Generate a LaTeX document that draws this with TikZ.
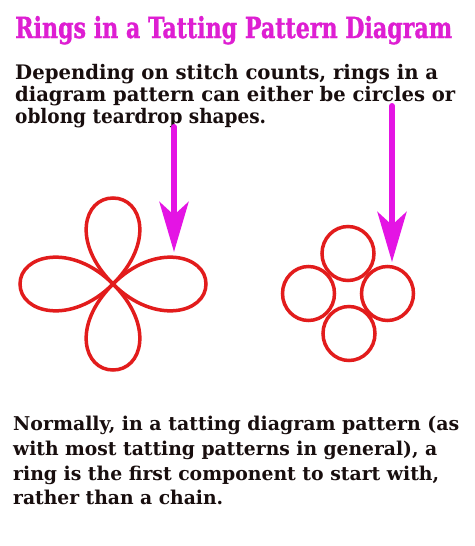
\documentclass[tikz,border=0pt]{standalone}
\usepackage{fontspec}
\setmainfont{DejaVu Serif}
\newfontfamily\heavyfont{DejaVu Serif}[BoldFeatures={FakeBold=1.2}]
\usetikzlibrary{arrows.meta}
\definecolor{titlemag}{RGB}{222,30,210}
\definecolor{arrowmag}{RGB}{228,20,228}
\definecolor{ringred}{RGB}{226,28,28}
\definecolor{inkblack}{RGB}{24,14,14}
\newcommand{\fitline}[2]{\resizebox{#1}{\height}{#2}}
\tikzset{
  txt/.style={anchor=base west, inner sep=0pt, text=inkblack},
  ptxt/.style={txt, font=\fontsize{20}{22}\selectfont\bfseries},
  qtxt/.style={txt, font=\fontsize{19}{22}\selectfont\bfseries},
  ring/.style={draw=ringred, line width=3.5pt},
  pointer/.style={draw=arrowmag, line width=6pt, line cap=round,
    -{Stealth[length=50pt, width=29pt, inset=13pt]}},
}
\begin{document}
\begin{tikzpicture}[x=1pt, y=-1pt]
\fill[white] (0,0) rectangle (474,546);
\useasboundingbox (0,0) rectangle (474,546);

% title
\node[txt, text=titlemag, font=\fontsize{29}{32}\selectfont\heavyfont\bfseries] (title) at (15,38)
  {\fitline{437pt}{Rings in a Tatting Pattern Diagram}};

% first paragraph
\node[ptxt] (p1a) at (15,79)  {\fitline{423pt}{Depending on stitch counts, rings in a}};
\node[ptxt] (p1b) at (15,101) {\fitline{440pt}{diagram pattern can either be circles or}};
\node[ptxt] (p1c) at (15,123) {\fitline{251pt}{oblong teardrop shapes.}};

% second paragraph
\node[qtxt] (p2a) at (13,430) {\fitline{446pt}{Normally, in a tatting diagram pattern (as}};
\node[qtxt] (p2b) at (13,455) {\fitline{424pt}{with most tatting patterns in general), a}};
\node[qtxt] (p2c) at (13,480) {\fitline{426pt}{ring is the first component to start with,}};
\node[qtxt] (p2d) at (13,504) {\fitline{210pt}{rather than a chain.}};

% teardrop ring (four petals)
\foreach \ang/\L in {0/86, 90/93, 180/86, 270/93}{
  \begin{scope}[shift={(113,284)}, rotate=\ang]
    \draw[ring] (0,0) .. controls (-42,42) and (-29,\L) .. (0,\L)
                      .. controls (29,\L) and (42,42) .. (0,0);
  \end{scope}
}

% circle rings
\draw[ring] (348,253.5) ellipse [x radius=26, y radius=27];
\draw[ring] (308.5,293.5) ellipse [x radius=26, y radius=27];
\draw[ring] (387.5,293.5) ellipse [x radius=26, y radius=27];
\draw[ring] (349,333.5) ellipse [x radius=26, y radius=27];

% arrows
\coordinate (a1s) at (174,127);
\coordinate (a1e) at (174,252);
\coordinate (a2s) at (392,106);
\coordinate (a2e) at (392,262);
\draw[pointer] (a1s) -- (a1e);
\draw[pointer] (a2s) -- (a2e);
\end{tikzpicture}
\end{document}
